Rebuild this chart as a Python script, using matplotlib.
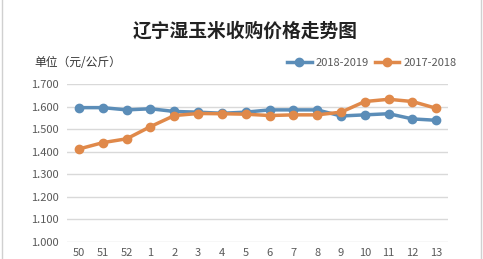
import matplotlib
matplotlib.use("Agg")
import matplotlib.pyplot as plt
from matplotlib.patches import Rectangle

plt.rcParams['font.family'] = ['Noto Sans CJK SC', 'DejaVu Sans']

weeks = ["50", "51", "52", "1", "2", "3", "4", "5", "6", "7", "8", "9", "10", "11", "12", "13"]
s2018 = [1.595, 1.595, 1.585, 1.590, 1.578, 1.575, 1.570, 1.575, 1.585, 1.585, 1.585, 1.558, 1.563, 1.568, 1.545, 1.539]
s2017 = [1.412, 1.440, 1.457, 1.511, 1.560, 1.569, 1.568, 1.566, 1.560, 1.563, 1.563, 1.575, 1.622, 1.632, 1.622, 1.592]
yticks = [1.0, 1.1, 1.2, 1.3, 1.4, 1.5, 1.6, 1.7]

blue = '#5b8db8'
orange = '#e0894a'

fig = plt.figure(figsize=(4.83, 2.59), dpi=100)
fig.patches.append(Rectangle((0.004, -0.01), 0.992, 1.02, transform=fig.transFigure,
                             fill=False, edgecolor='#d0d0d0', linewidth=1.0))
ax = fig.add_axes([0.139, 0.0656, 0.789, 0.6104])
x = list(range(len(weeks)))
ax.plot(x, s2018, color=blue, lw=2.5, marker='o', ms=6, label='2018-2019', zorder=3)
ax.plot(x, s2017, color=orange, lw=2.5, marker='o', ms=6, label='2017-2018', zorder=3)

ax.set_ylim(1.0, 1.7)
ax.set_xlim(-0.5, len(weeks) - 0.5)
ax.set_yticks(yticks)
ax.set_yticklabels([f"{v:.3f}" for v in yticks])
ax.set_xticks(x)
ax.set_xticklabels(weeks)
ax.tick_params(length=0, labelsize=8, labelcolor='#595959', pad=6)
ax.tick_params(axis='x', pad=4)
ax.grid(axis='y', color='#d9d9d9', lw=1)
ax.set_axisbelow(True)
for s in ax.spines.values():
    s.set_visible(False)

fig.text(0.507, 0.88, '辽宁湿玉米收购价格走势图', ha='center', va='center',
         fontsize=13.5, fontweight='bold', color='#222222')
fig.text(0.072, 0.757, '单位（元/公斤）', ha='left', va='center', fontsize=8.5, color='#333333')
fig.legend(loc='center right', bbox_to_anchor=(0.955, 0.757), ncol=2, frameon=False,
           fontsize=8, labelcolor='#595959', handlelength=2.2, handletextpad=0.4,
           columnspacing=0.5, borderaxespad=0)

fig.savefig('out.png', dpi=100)
